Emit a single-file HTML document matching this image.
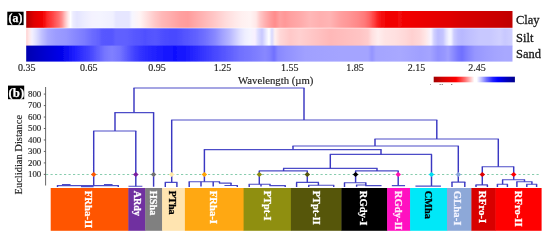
<!DOCTYPE html>
<html><head><meta charset="utf-8"><title>Figure</title>
<style>
html,body{margin:0;padding:0;background:#fff;}
body{width:550px;height:240px;overflow:hidden;}
svg{display:block;font-family:"Liberation Serif","Times New Roman",serif;}
.xl{font-size:10px;fill:#222;stroke:#222;stroke-width:0.15px;}
.yt{font-size:8.1px;fill:#2a2a2a;stroke:#2a2a2a;stroke-width:0.15px;}
.rl{font-size:12.5px;fill:#1a1a1a;stroke:#1a1a1a;stroke-width:0.3px;}
.bl{font-size:10.4px;font-weight:bold;}
.pl{font-size:12.5px;font-weight:bold;fill:#fff;stroke:#fff;stroke-width:0.25px;}
</style></head><body>
<svg width="550" height="240" viewBox="0 0 550 240">
<defs>
<linearGradient id="g1" gradientUnits="userSpaceOnUse" x1="26.2" y1="0" x2="512.5" y2="0"><stop offset="0.0000" stop-color="#a80000"/><stop offset="0.0078" stop-color="#c80000"/><stop offset="0.0160" stop-color="#e00000"/><stop offset="0.0284" stop-color="#ec0000"/><stop offset="0.0366" stop-color="#f40808"/><stop offset="0.0428" stop-color="#fc2828"/><stop offset="0.0531" stop-color="#ff4040"/><stop offset="0.0613" stop-color="#ff5c5c"/><stop offset="0.0674" stop-color="#ff7070"/><stop offset="0.0736" stop-color="#ff9090"/><stop offset="0.0798" stop-color="#ffc0c0"/><stop offset="0.0860" stop-color="#ffe8e8"/><stop offset="0.0911" stop-color="#ffffff"/><stop offset="0.0962" stop-color="#ececff"/><stop offset="0.1045" stop-color="#e4e4ff"/><stop offset="0.1189" stop-color="#ececff"/><stop offset="0.1353" stop-color="#f4f2ff"/><stop offset="0.1518" stop-color="#f4f4ff"/><stop offset="0.1785" stop-color="#f0f0ff"/><stop offset="0.1847" stop-color="#e6e6ff"/><stop offset="0.2114" stop-color="#e6e6ff"/><stop offset="0.2176" stop-color="#f6f6ff"/><stop offset="0.2340" stop-color="#fff4f4"/><stop offset="0.2505" stop-color="#ffdcdc"/><stop offset="0.2649" stop-color="#ffc8c8"/><stop offset="0.2793" stop-color="#ffb8b8"/><stop offset="0.2957" stop-color="#ffaeae"/><stop offset="0.3163" stop-color="#ffa0a0"/><stop offset="0.3327" stop-color="#ff9c9c"/><stop offset="0.3471" stop-color="#ffa8a8"/><stop offset="0.3677" stop-color="#ffb8b8"/><stop offset="0.3882" stop-color="#ffc8c8"/><stop offset="0.4088" stop-color="#ffdada"/><stop offset="0.4294" stop-color="#ffe8e8"/><stop offset="0.4438" stop-color="#fff0f0"/><stop offset="0.4602" stop-color="#fff4f4"/><stop offset="0.4725" stop-color="#ffe8e8"/><stop offset="0.4808" stop-color="#ffc8c8"/><stop offset="0.4911" stop-color="#ffb0b0"/><stop offset="0.5013" stop-color="#ff9c9c"/><stop offset="0.5116" stop-color="#ff8c8c"/><stop offset="0.5219" stop-color="#ffa0a0"/><stop offset="0.5322" stop-color="#ff9898"/><stop offset="0.5425" stop-color="#ffa0a0"/><stop offset="0.5630" stop-color="#ffaaaa"/><stop offset="0.5836" stop-color="#ffb8b8"/><stop offset="0.6042" stop-color="#ffb0b0"/><stop offset="0.6247" stop-color="#ffb4b4"/><stop offset="0.6453" stop-color="#ffa0a0"/><stop offset="0.6658" stop-color="#ff9494"/><stop offset="0.6823" stop-color="#ff8888"/><stop offset="0.6967" stop-color="#ff7878"/><stop offset="0.7070" stop-color="#ff6060"/><stop offset="0.7152" stop-color="#ff4040"/><stop offset="0.7234" stop-color="#fa2020"/><stop offset="0.7316" stop-color="#f40a0a"/><stop offset="0.7481" stop-color="#f00000"/><stop offset="0.7687" stop-color="#f20808"/><stop offset="0.7892" stop-color="#f00000"/><stop offset="0.8098" stop-color="#ec0000"/><stop offset="0.8304" stop-color="#e80000"/><stop offset="0.8509" stop-color="#e40000"/><stop offset="0.8715" stop-color="#e00000"/><stop offset="0.8818" stop-color="#dc0000"/><stop offset="0.8920" stop-color="#d80000"/><stop offset="0.9126" stop-color="#d40000"/><stop offset="0.9332" stop-color="#d00000"/><stop offset="0.9537" stop-color="#cc0000"/><stop offset="0.9743" stop-color="#c80000"/><stop offset="1.0000" stop-color="#c00000"/></linearGradient>
<linearGradient id="g2" gradientUnits="userSpaceOnUse" x1="26.2" y1="0" x2="512.5" y2="0"><stop offset="0.0000" stop-color="#ffd0d0"/><stop offset="0.0058" stop-color="#ffe8e8"/><stop offset="0.0119" stop-color="#f4f0ff"/><stop offset="0.0202" stop-color="#e0e0ff"/><stop offset="0.0325" stop-color="#c0c0ff"/><stop offset="0.0448" stop-color="#a8a8ff"/><stop offset="0.0613" stop-color="#9c9cff"/><stop offset="0.0818" stop-color="#9696ff"/><stop offset="0.0983" stop-color="#8a8aff"/><stop offset="0.1189" stop-color="#7c7cff"/><stop offset="0.1353" stop-color="#6c6cff"/><stop offset="0.1497" stop-color="#6262ff"/><stop offset="0.1559" stop-color="#5858ff"/><stop offset="0.1764" stop-color="#5656ff"/><stop offset="0.1847" stop-color="#6060ff"/><stop offset="0.2032" stop-color="#6060ff"/><stop offset="0.2237" stop-color="#5858ff"/><stop offset="0.2443" stop-color="#5050ff"/><stop offset="0.2649" stop-color="#5656ff"/><stop offset="0.2854" stop-color="#4c4cff"/><stop offset="0.3060" stop-color="#4848ff"/><stop offset="0.3265" stop-color="#5454ff"/><stop offset="0.3471" stop-color="#6060ff"/><stop offset="0.3677" stop-color="#7070ff"/><stop offset="0.3882" stop-color="#8888ff"/><stop offset="0.4026" stop-color="#a0a0ff"/><stop offset="0.4191" stop-color="#b8b8ff"/><stop offset="0.4314" stop-color="#d0d0ff"/><stop offset="0.4396" stop-color="#e0e0ff"/><stop offset="0.4499" stop-color="#eeeeff"/><stop offset="0.4602" stop-color="#f4f4ff"/><stop offset="0.4705" stop-color="#f8f0ff"/><stop offset="0.4767" stop-color="#dcdcff"/><stop offset="0.4849" stop-color="#c8c8ff"/><stop offset="0.4931" stop-color="#e8e8ff"/><stop offset="0.4993" stop-color="#ffffff"/><stop offset="0.5054" stop-color="#d8d8ff"/><stop offset="0.5116" stop-color="#fff0f0"/><stop offset="0.5219" stop-color="#ffd8d8"/><stop offset="0.5322" stop-color="#ffd0d0"/><stop offset="0.5425" stop-color="#ffc8c8"/><stop offset="0.5630" stop-color="#ffd0d0"/><stop offset="0.5836" stop-color="#ffc8c8"/><stop offset="0.6042" stop-color="#ffc0c0"/><stop offset="0.6247" stop-color="#ffb8b8"/><stop offset="0.6453" stop-color="#ffbcbc"/><stop offset="0.6658" stop-color="#ffc0c0"/><stop offset="0.6864" stop-color="#ffc4c4"/><stop offset="0.7029" stop-color="#ffcccc"/><stop offset="0.7111" stop-color="#ffe0e0"/><stop offset="0.7234" stop-color="#ffeeee"/><stop offset="0.7378" stop-color="#ffe4e4"/><stop offset="0.7584" stop-color="#ffe0e0"/><stop offset="0.7789" stop-color="#ffd8d8"/><stop offset="0.7933" stop-color="#ffd0d0"/><stop offset="0.8098" stop-color="#ffd8d8"/><stop offset="0.8221" stop-color="#ffe8e8"/><stop offset="0.8324" stop-color="#f8f4ff"/><stop offset="0.8386" stop-color="#d0d0ff"/><stop offset="0.8468" stop-color="#bcbcff"/><stop offset="0.8571" stop-color="#c4c4ff"/><stop offset="0.8633" stop-color="#e0e0ff"/><stop offset="0.8694" stop-color="#f4f4ff"/><stop offset="0.8735" stop-color="#f4f4ff"/><stop offset="0.8797" stop-color="#ccccff"/><stop offset="0.8879" stop-color="#bcbcff"/><stop offset="0.8962" stop-color="#b8b8ff"/><stop offset="0.9126" stop-color="#c0c0ff"/><stop offset="0.9332" stop-color="#c8c8ff"/><stop offset="0.9537" stop-color="#c8c8ff"/><stop offset="0.9743" stop-color="#d0d0ff"/><stop offset="0.9846" stop-color="#c8c8ff"/><stop offset="1.0000" stop-color="#d0d0ff"/></linearGradient>
<linearGradient id="g3" gradientUnits="userSpaceOnUse" x1="26.2" y1="0" x2="512.5" y2="0"><stop offset="0.0000" stop-color="#0000b0"/><stop offset="0.0284" stop-color="#0000c8"/><stop offset="0.0592" stop-color="#0000e0"/><stop offset="0.0798" stop-color="#0808f0"/><stop offset="0.1003" stop-color="#2020ff"/><stop offset="0.1209" stop-color="#3838ff"/><stop offset="0.1312" stop-color="#4444ff"/><stop offset="0.1456" stop-color="#5c5cff"/><stop offset="0.1620" stop-color="#7676ff"/><stop offset="0.1764" stop-color="#8080ff"/><stop offset="0.1929" stop-color="#7474ff"/><stop offset="0.2093" stop-color="#5858ff"/><stop offset="0.2237" stop-color="#4040ff"/><stop offset="0.2381" stop-color="#3030ff"/><stop offset="0.2546" stop-color="#2626ff"/><stop offset="0.2751" stop-color="#1c1cff"/><stop offset="0.3060" stop-color="#1010ff"/><stop offset="0.3265" stop-color="#1818ff"/><stop offset="0.3471" stop-color="#2828ff"/><stop offset="0.3677" stop-color="#3838ff"/><stop offset="0.3882" stop-color="#4848ff"/><stop offset="0.4088" stop-color="#5858ff"/><stop offset="0.4294" stop-color="#6868ff"/><stop offset="0.4396" stop-color="#7070ff"/><stop offset="0.4602" stop-color="#7878ff"/><stop offset="0.4767" stop-color="#8080ff"/><stop offset="0.4911" stop-color="#8888ff"/><stop offset="0.5013" stop-color="#8080ff"/><stop offset="0.5096" stop-color="#7070ff"/><stop offset="0.5178" stop-color="#8888ff"/><stop offset="0.5322" stop-color="#9090ff"/><stop offset="0.5527" stop-color="#9898ff"/><stop offset="0.5733" stop-color="#a0a0ff"/><stop offset="0.6453" stop-color="#a4a4ff"/><stop offset="0.7029" stop-color="#a4a4ff"/><stop offset="0.7111" stop-color="#9494ff"/><stop offset="0.7193" stop-color="#a4a4ff"/><stop offset="0.7687" stop-color="#a8a8ff"/><stop offset="0.8098" stop-color="#a0a0ff"/><stop offset="0.8304" stop-color="#a4a4ff"/><stop offset="0.8468" stop-color="#9090ff"/><stop offset="0.8612" stop-color="#9898ff"/><stop offset="0.8674" stop-color="#a0a0ff"/><stop offset="0.8756" stop-color="#9090ff"/><stop offset="0.8879" stop-color="#7878ff"/><stop offset="0.8962" stop-color="#7070ff"/><stop offset="0.9085" stop-color="#8484ff"/><stop offset="0.9229" stop-color="#9696ff"/><stop offset="0.9435" stop-color="#9e9eff"/><stop offset="0.9640" stop-color="#a4a4ff"/><stop offset="0.9846" stop-color="#a8a8ff"/><stop offset="1.0000" stop-color="#a8a8ff"/></linearGradient>
<linearGradient id="cb" x1="0" y1="0" x2="1" y2="0">
<stop offset="0" stop-color="#a00000"/><stop offset="0.10" stop-color="#d00000"/><stop offset="0.275" stop-color="#ff0000"/><stop offset="0.386" stop-color="#ff7070"/><stop offset="0.45" stop-color="#ffc0c0"/><stop offset="0.50" stop-color="#ffffff"/><stop offset="0.53" stop-color="#ffffff"/><stop offset="0.585" stop-color="#c0c0ff"/><stop offset="0.65" stop-color="#7070ff"/><stop offset="0.73" stop-color="#2020ff"/><stop offset="0.79" stop-color="#0000ff"/><stop offset="0.89" stop-color="#0000c0"/><stop offset="1" stop-color="#00008b"/>
</linearGradient>
<filter id="bl" x="-2%" y="-2%" width="104%" height="104%"><feGaussianBlur stdDeviation="0.45"/></filter>
</defs>
<rect width="550" height="240" fill="#fff"/>
<g id="heat">
<g filter="url(#bl)">
<rect x="26.2" y="11.0" width="486.3" height="16.8" fill="url(#g1)"/>
<rect x="26.2" y="28.3" width="486.3" height="18.2" fill="url(#g2)"/>
<rect x="26.2" y="45.6" width="486.3" height="16.0" fill="url(#g3)"/>
</g>
</g>
<rect x="7.3" y="11.7" width="16.3" height="13.4" fill="#000"/>
<text x="8.6" y="22.1" class="pl" style="font-size:11.8px">(a)</text>
<text x="516" y="24.4" class="rl">Clay</text>
<text x="516" y="41.5" class="rl">Silt</text>
<text x="516" y="58.3" class="rl">Sand</text>
<text x="26.7" y="70.8" text-anchor="middle" class="xl">0.35</text>
<text x="88.8" y="70.8" text-anchor="middle" class="xl">0.65</text>
<text x="157" y="70.8" text-anchor="middle" class="xl">0.95</text>
<text x="222.4" y="70.8" text-anchor="middle" class="xl">1.25</text>
<text x="289.8" y="70.8" text-anchor="middle" class="xl">1.55</text>
<text x="354.9" y="70.8" text-anchor="middle" class="xl">1.85</text>
<text x="416.5" y="70.8" text-anchor="middle" class="xl">2.15</text>
<text x="476.9" y="70.8" text-anchor="middle" class="xl">2.45</text>
<text x="238" y="83.5" textLength="75.4" lengthAdjust="spacingAndGlyphs" style="font-size:10.7px;fill:#222;stroke:#222;stroke-width:0.15px">Wavelength (µm)</text>
<rect x="433.7" y="76.7" width="81.2" height="5.6" fill="url(#cb)"/>
<text x="428.8" y="85.2" style="font-size:2.8px;fill:#222;font-weight:bold">-1</text>
<text x="439.6" y="85.2" style="font-size:2.8px;fill:#222;font-weight:bold">0.5</text>
<text x="451" y="85.2" style="font-size:2.8px;fill:#222;font-weight:bold">0</text>
<rect x="8" y="85.6" width="16.2" height="13.6" fill="#000"/>
<text x="8.5" y="97.3" class="pl" style="font-size:12.8px">(b)</text>
<line x1="45.6" y1="87" x2="45.6" y2="185.5" stroke="#666" stroke-width="1"/>
<line x1="43.8" y1="94.10" x2="45.6" y2="94.10" stroke="#555" stroke-width="0.9"/>
<text x="28" y="96.75" textLength="13.3" lengthAdjust="spacingAndGlyphs" class="yt">800</text>
<line x1="43.8" y1="105.57" x2="45.6" y2="105.57" stroke="#555" stroke-width="0.9"/>
<text x="28" y="108.22" textLength="13.3" lengthAdjust="spacingAndGlyphs" class="yt">700</text>
<line x1="43.8" y1="117.04" x2="45.6" y2="117.04" stroke="#555" stroke-width="0.9"/>
<text x="28" y="119.69" textLength="13.3" lengthAdjust="spacingAndGlyphs" class="yt">600</text>
<line x1="43.8" y1="128.51" x2="45.6" y2="128.51" stroke="#555" stroke-width="0.9"/>
<text x="28" y="131.16" textLength="13.3" lengthAdjust="spacingAndGlyphs" class="yt">500</text>
<line x1="43.8" y1="139.98" x2="45.6" y2="139.98" stroke="#555" stroke-width="0.9"/>
<text x="28" y="142.63" textLength="13.3" lengthAdjust="spacingAndGlyphs" class="yt">400</text>
<line x1="43.8" y1="151.45" x2="45.6" y2="151.45" stroke="#555" stroke-width="0.9"/>
<text x="28" y="154.10" textLength="13.3" lengthAdjust="spacingAndGlyphs" class="yt">300</text>
<line x1="43.8" y1="162.92" x2="45.6" y2="162.92" stroke="#555" stroke-width="0.9"/>
<text x="28" y="165.57" textLength="13.3" lengthAdjust="spacingAndGlyphs" class="yt">200</text>
<line x1="43.8" y1="174.39" x2="45.6" y2="174.39" stroke="#555" stroke-width="0.9"/>
<text x="28" y="177.04" textLength="13.3" lengthAdjust="spacingAndGlyphs" class="yt">100</text>
<text transform="translate(22.3,194.5) rotate(-90)" style="font-size:10.5px;fill:#222;stroke:#222;stroke-width:0.15px">Euclidian Distance</text>
<line x1="46" y1="174.5" x2="539.5" y2="174.5" stroke="#88ccae" stroke-width="1" stroke-dasharray="2.2 2.3"/>
<g id="tree">
<path d="M93.7 131H135.8M115 112.6H153.6M134 88H304M171.7 120H436.8M375 139H498.3M293 146H458.3M204.4 149.6H381M330.3 154.4H431.5M283.6 168.4H377M259.3 170.9H307.3M355.6 170.9H398.2M482.3 166.7H513.7M57.5 185.6H118.3M62.5 184.6H70M81.6 186.6H93M104.5 184.6H112M129 186.3H141.8M165.3 182.4H176.9M189.2 181.7H219.5M219.5 183.1H231M231 185.5H237.3M225 185.5H231M249.2 184.3H270M270 185.6H285.2M296.6 182.4H318.4M308.7 185.3H333.7M344.5 182.7H365.8M365.8 185.6H381M356.6 185.0H365.8M392.4 185.6H404.5M416 186.1H440.4M452 182.1H464.8M476 184.9H487.4M502.6 179.8H524.5M497.4 184.3H507.4M516.9 181.7H531.9M526.8 184.3H536.6" stroke="#4c4cc8" stroke-width="1.12" stroke-linecap="square" fill="none"/>
<path d="M93.7 185.5V131M135.8 131V186.2M115 131V112.6M153.6 112.6V186.8M134 112.6V88M304 88V120M171.7 182.4V120M436.8 120V139M375 146V139M498.3 139V166.7M293 149.6V146M458.3 146V182.1M204.4 181.7V149.6M381 149.6V154.4M330.3 168.4V154.4M431.5 154.4V186M283.6 170.9V168.4M377 168.4V170.9M259.3 184.3V170.9M307.3 170.9V182.4M355.6 182.7V170.9M398.2 170.9V185.5M482.3 184.9V166.7M513.7 166.7V179.8M57.5 187V185.6M118.3 185.6V187M165.3 187V182.4M176.9 182.4V187M189.2 187V181.7M219.5 181.7V183.1M231 183.1V185.5M237.3 185.5V187M201 181.7V186.5M213.2 181.7V186.5M249.2 187V184.3M270 184.3V185.6M285.2 185.6V187M261 184.3V186.5M296.6 187V182.4M318.4 182.4V185.3M308.7 187V185.3M333.7 185.3V187M344.5 187V182.7M365.8 182.7V185.6M356.6 186.8V185.0M452 187V182.1M464.8 182.1V187M476 187V184.9M487.4 184.9V187M502.6 184.3V179.8M524.5 179.8V181.7M497.4 187V184.3M507.4 184.3V187M516.9 187V181.7M531.9 181.7V184.3M526.8 187V184.3M536.6 184.3V187" stroke="#3a38c2" stroke-width="1.45" fill="none"/>
</g>
<polygon points="90.9,174.5 93.7,172.0 96.5,174.5 93.7,177.0" fill="#ff5a00"/>
<polygon points="133.0,174.5 135.8,172.0 138.60000000000002,174.5 135.8,177.0" fill="#7a1fa0"/>
<polygon points="150.79999999999998,174.5 153.6,172.0 156.4,174.5 153.6,177.0" fill="#707070"/>
<polygon points="168.89999999999998,174.5 171.7,172.0 174.5,174.5 171.7,177.0" fill="#ffe9a8"/>
<polygon points="201.6,174.5 204.4,172.0 207.20000000000002,174.5 204.4,177.0" fill="#ffa500"/>
<polygon points="256.5,174.5 259.3,172.0 262.1,174.5 259.3,177.0" fill="#8b8b10"/>
<polygon points="304.5,174.5 307.3,172.0 310.1,174.5 307.3,177.0" fill="#55550a"/>
<polygon points="352.8,174.5 355.6,172.0 358.40000000000003,174.5 355.6,177.0" fill="#000000"/>
<polygon points="395.4,174.5 398.2,172.0 401.0,174.5 398.2,177.0" fill="#ff10b0"/>
<polygon points="428.7,174.5 431.5,172.0 434.3,174.5 431.5,177.0" fill="#00e0f0"/>
<polygon points="455.5,174.5 458.3,172.0 461.1,174.5 458.3,177.0" fill="#8aa4dc"/>
<polygon points="479.5,174.5 482.3,172.0 485.1,174.5 482.3,177.0" fill="#e00000"/>
<polygon points="510.90000000000003,174.5 513.7,172.0 516.5,174.5 513.7,177.0" fill="#ff0000"/>
<rect x="50.7" y="188" width="78.0" height="42.8" fill="#ff5500"/>
<rect x="128.3" y="188" width="17.3" height="42.8" fill="#7030a0"/>
<rect x="145.2" y="188" width="17.3" height="42.8" fill="#808080"/>
<rect x="162.1" y="188" width="23.2" height="42.8" fill="#ffe4b0"/>
<rect x="184.9" y="188" width="59.1" height="42.8" fill="#ffa812"/>
<rect x="243.6" y="188" width="47.7" height="42.8" fill="#8f8f10"/>
<rect x="290.9" y="188" width="50.9" height="42.8" fill="#56560a"/>
<rect x="341.4" y="188" width="46.1" height="42.8" fill="#000000"/>
<rect x="387.1" y="188" width="23.4" height="42.8" fill="#ff10c0"/>
<rect x="410.1" y="188" width="37.3" height="42.8" fill="#00e8f8"/>
<rect x="447" y="188" width="24.8" height="42.8" fill="#8da8d8"/>
<rect x="471.4" y="188" width="24.5" height="42.8" fill="#d80000"/>
<rect x="495.5" y="188" width="46.1" height="42.8" fill="#ff0000"/>
<text transform="translate(85.2,190.8) rotate(90)" fill="#fff" stroke="#fff" stroke-width="0.25" textLength="37.4" lengthAdjust="spacingAndGlyphs" class="bl">FRha-II</text>
<text transform="translate(134.3,190.8) rotate(90)" fill="#fff" stroke="#fff" stroke-width="0.25" textLength="25.2" lengthAdjust="spacingAndGlyphs" class="bl">ARdy</text>
<text transform="translate(149.6,190.8) rotate(90)" fill="#fff" stroke="#fff" stroke-width="0.25" textLength="24.5" lengthAdjust="spacingAndGlyphs" class="bl">HSha</text>
<text transform="translate(168.7,190.8) rotate(90)" fill="#000" stroke="#000" stroke-width="0.25" textLength="23.9" lengthAdjust="spacingAndGlyphs" class="bl">PTha</text>
<text transform="translate(210.4,190.8) rotate(90)" fill="#fff" stroke="#fff" stroke-width="0.25" textLength="33.1" lengthAdjust="spacingAndGlyphs" class="bl">FRha-I</text>
<text transform="translate(264.2,190.8) rotate(90)" fill="#fff" stroke="#fff" stroke-width="0.25" textLength="29.8" lengthAdjust="spacingAndGlyphs" class="bl">PTpt-I</text>
<text transform="translate(312.6,190.8) rotate(90)" fill="#fff" stroke="#fff" stroke-width="0.25" textLength="33.9" lengthAdjust="spacingAndGlyphs" class="bl">PTpt-II</text>
<text transform="translate(360.3,190.8) rotate(90)" fill="#fff" stroke="#fff" stroke-width="0.25" textLength="34.7" lengthAdjust="spacingAndGlyphs" class="bl">RGdy-I</text>
<text transform="translate(394.6,190.8) rotate(90)" fill="#ffe8f8" stroke="#ffe8f8" stroke-width="0.25" textLength="39.2" lengthAdjust="spacingAndGlyphs" class="bl">RGdy-II</text>
<text transform="translate(425.2,190.8) rotate(90)" fill="#000" stroke="#000" stroke-width="0.25" textLength="28.2" lengthAdjust="spacingAndGlyphs" class="bl">CMha</text>
<text transform="translate(454.1,190.8) rotate(90)" fill="#f4f4ff" stroke="#f4f4ff" stroke-width="0.25" textLength="34.6" lengthAdjust="spacingAndGlyphs" class="bl">GLha-I</text>
<text transform="translate(478.9,190.8) rotate(90)" fill="#fff" stroke="#fff" stroke-width="0.25" textLength="32.4" lengthAdjust="spacingAndGlyphs" class="bl">RFro-I</text>
<text transform="translate(514.9,190.8) rotate(90)" fill="#fff" stroke="#fff" stroke-width="0.25" textLength="35.8" lengthAdjust="spacingAndGlyphs" class="bl">RFro-II</text>
</svg>
</body></html>
